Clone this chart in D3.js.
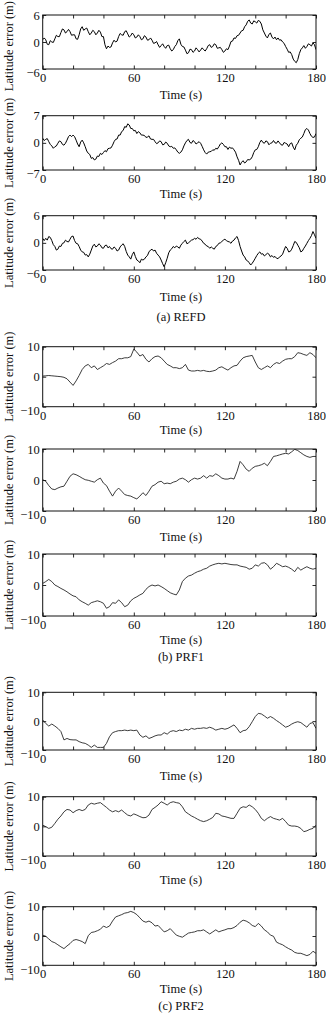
<!DOCTYPE html>
<html>
<head>
<meta charset="utf-8">
<script src="https://cdn.jsdelivr.net/npm/d3@7"></script>
<style>
  html, body { margin: 0; padding: 0; background: #fff; }
  svg { display: block; }
  text { font-family: "Liberation Serif", "Times New Roman", serif; font-size: 12.5px; fill: #111; }
</style>
</head>
<body>
<svg id="chart" width="326" height="1013"></svg>
<script>
// ---- Data: latitude error (m) versus time (s) ----
const timeMajorTicks = [0, 60, 120, 180];
const timeMinorTicks = [0, 20, 40, 60, 80, 100, 120, 140, 160, 180];
const xLabel = "Time (s)";
const yLabel = "Latitude error (m)";
const captions = ["(a) REFD", "(b) PRF1", "(c) PRF2"];

const refdTicksA = [-6, 0, 6];
const refdTicksB = [-7, 0, 7];
const prfTicks = [-10, 0, 10];

// REFD runs, sampled every 1 s
const refd1 = [0.5,0.9,0.5,-0.5,-0.6,0.3,0,-0.1,0.7,1.5,1.2,1.2,2.1,2.9,2.7,2.0,2.3,2.8,2.3,1.5,
  1.6,1.6,0.7,0.6,1.6,2.9,3.4,2.6,2.9,3.1,2.3,1.6,2,2.6,2.3,1.6,2,2.6,2.2,1.2,
  1.2,-0.6,-1.5,-0.9,-1.2,-1.1,-0.2,0.4,0,0.2,1.2,1.9,1.6,1.5,2.3,2.5,1.8,1.1,1.4,2.0,
  1.6,0.9,1.1,1.6,1.2,0.5,0.7,1.4,1.1,0.4,0.5,0.9,0.4,-0.3,-0.2,0.1,-0.6,-1.2,-0.8,-0.4,
  -1,-1.4,-0.8,-0.7,-1.5,-2.0,-1.7,-1.0,-0.6,0.3,0.7,-0.5,-1,-1.1,-1.8,-2.6,-2.4,-1.6,-1.7,-2.3,
  -2,-1.3,-1.7,-2.2,-1.8,-1.3,-1.7,-2.0,-1.5,-0.8,-0.6,-1.2,-1,-0.4,-0.6,-1.4,-1.3,-1.2,-1.7,-2.3,
  -2,-1.5,-1.7,-0.9,0.1,0.2,0.9,0.8,1.4,1.5,2,2.5,2.6,3.4,3.8,4.6,4.9,4.2,4,4.7,
  4.5,4.2,4.8,4.6,4,2.7,2,1.3,0.9,1.7,2,1.1,0.7,1.1,0.5,0.9,0.4,0.5,0,-0.3,
  -1,-1.6,-2.3,-2.2,-2.8,-3.8,-4.3,-4.6,-3.9,-2.6,-1.7,-1.3,-0.8,-1.4,-1,-0.4,-0.6,-0.9,-0.2,-0.6,
  -1.7];
const refd2 = [1.2,0.6,0.9,1.1,0.3,-0.4,-0.8,-1.4,-1,-0.8,-0.1,0.5,0.3,-0.4,-0.6,-0.1,0.7,1.6,2,1.6,
  2,1.6,0.7,-0.3,-1,0.2,0.7,0,-1,-2.1,-2.7,-3.0,-4,-3.8,-4.4,-4.2,-3.4,-3.5,-2.7,-3.0,
  -2.5,-2.0,-2.3,-1.5,-1.4,-1.3,-0.6,0.3,0.9,1.0,2,2.0,2.9,3.2,4.2,4.0,4.9,4.6,3.7,3.7,
  3.1,3.2,2.4,2.9,2.6,2.0,2,1.9,1.4,1.5,1.8,1.0,0.9,0.9,0.3,-0.2,0,0.5,0.3,-0.5,
  -0.4,0.2,-0.1,-0.8,-1,-0.9,-1.4,-1.3,-1.8,-2.4,-2.7,-2.4,-1.8,-0.8,0,0.6,0.9,0.1,-0.1,0.6,
  0.3,-0.3,0,0.3,-0.1,-0.9,-1.8,-2.5,-2.9,-2.4,-2.3,-2.2,-1.8,-1.9,-1.4,-1.6,-1,-0.3,0,-0.4,
  -1,-1.0,-1.7,-1.1,-1.4,-1.3,-1.8,-2.4,-3.6,-4.5,-5.7,-5.0,-4.6,-5.2,-4.9,-4.3,-4.4,-4.2,-3.6,-2.5,
  -1.8,-1.7,-1,0.1,0.7,0.1,-0.1,0.5,0.3,-0.5,-0.1,0.0,0.6,0.0,-0.1,0.5,0,-0.5,-0.6,0.1,
  -0.1,-0.3,-1,-0.2,0,-1.1,-1.8,-0.6,-0.1,0.8,1.2,1.5,2.4,3.4,3.7,3.3,2.4,1.7,1.4,1.5,
  2.4];
const refd3 = [1,0.5,1,0.6,1.4,1.2,0.5,-0.4,-0.8,-1.6,-1.4,-0.7,-0.8,-0.1,0,0.6,0.3,0.2,0.8,1.4,
  1.5,0.5,-0.1,-0.2,-0.8,-1.6,-2,-2.1,-2.7,-2.6,-3.1,-2.5,-1.6,-0.7,-0.3,-0.9,-0.7,-0.2,-0.5,-1.1,
  -1.2,-0.6,-0.5,-1.1,-0.8,-1.3,-1.4,-0.9,-1.2,-1.8,-1.6,-0.9,-0.5,-0.2,-0.8,-1.9,-2.7,-3.1,-3.6,-2.6,
  -2,-3.0,-3.8,-4.0,-4.4,-3.6,-3.8,-3.6,-3.1,-2.8,-2,-1.6,-1.4,-1.8,-1.6,-2.3,-2.7,-3.1,-3.8,-4.6,
  -5.3,-4.4,-3.4,-2.2,-1.6,-1.3,-0.8,-1.1,-0.7,-0.9,-1.2,-0.5,-0.1,0.3,0.6,-0.2,0,0.3,0.6,0.7,
  1,0.8,1.2,0.9,0.8,0.4,-0.1,-0.3,-0.7,-0.8,-1.2,-0.9,-1.2,-1.4,-0.8,-0.6,-0.1,0.0,0.3,0.6,
  0.8,0.5,0.3,0.2,-0.1,0.4,0.6,1.1,1.4,0.5,-0.8,-1.8,-2.7,-3.1,-3.8,-4.0,-4.4,-4.9,-4.5,-4.0,
  -3.4,-2.8,-2.3,-2.0,-2.5,-2.4,-2.9,-2.6,-2.3,-2.5,-3.1,-2.8,-3.2,-3.0,-3.4,-3.5,-3.1,-2.9,-2.5,-1.6,
  -0.8,-1.2,-2,-1.9,-1.4,-0.6,0.3,0.1,-0.5,-1.1,-2,-1.8,-1.2,-0.7,-0.1,0.5,1,1.6,2.5,1.8,
  1];

// PRF1 runs, sampled every 2 s
const prf1a = [0.2,0.3,0.4,0.3,0.2,0.1,0,-0.2,-0.7,-1.8,-2.9,-1.4,0.4,2.4,3.6,4.1,3,3.6,2.4,3,
  3.6,4.4,4.1,4.7,5.2,6,6,6.3,6.3,6.7,9.2,8.2,6.9,7.4,5.8,4.9,6,6.7,6.9,6.3,
  5.2,4.1,3.6,3,3,2.7,3,4.1,2.2,1.9,1.9,2.1,1.9,2.1,1.8,1.7,1.9,2.2,3,3.3,
  2.7,2.2,3,3.6,3.8,5.2,6.3,6.7,6.9,7.1,4.9,3,2.4,3,3.6,3,4.1,4.7,4.4,5.2,
  5.8,6,6,6.7,8,7.8,7.4,7.1,8,7.4,6.3];
const prf1b = [0.1,-0.4,-1.8,-2.9,-3.1,-2.6,-2.2,-2,-0.4,1.2,2,1.7,1.2,0.6,0.1,-0.1,-0.4,-0.7,0.1,0.6,
  -1,-1.8,-3.6,-5.2,-3.6,-2.6,-3.6,-4.7,-5,-5.2,-5.7,-6.1,-5.2,-4.1,-5,-3.6,-2,-1.5,-0.7,-0.4,
  -1.2,-1,-1.2,-0.7,-0.4,0.3,0.6,0.1,-0.7,0.1,0.6,0.3,0.6,1.4,0.6,1.4,1.2,2,1.4,0.6,
  0.3,0.3,0.6,0.3,2.8,6,4.9,3.5,2.8,3.8,4.4,4.6,4.9,5.4,4.6,6,7.6,7.8,8.1,8.4,
  8.6,8.4,9.1,9.9,9.5,8.8,8.1,7.6,7.3,7.6,7.6];
const prf1c = [0.5,1.1,1.8,1.1,0,-0.5,-1.1,-1.6,-2.2,-2.9,-3.5,-3.8,-4.8,-5.4,-5.9,-6.5,-5.7,-5.4,-5.1,-5.4,
  -5.9,-7.5,-7,-5.7,-5.9,-4.8,-5.7,-7,-6.5,-5.1,-4.3,-3.8,-3.2,-2.7,-1.4,-0.5,0,-0.3,0,-0.5,
  -1.1,-1.8,-2.5,-2.9,-3.2,-1.6,1.1,2.2,2.9,3.2,3.8,4.3,4.6,5.1,5.4,6.1,6.5,6.8,7,6.8,
  7,6.8,6.6,6.5,6.5,6.1,5.9,5.7,5.1,5.4,6.5,6.1,7,7.2,6.5,5.1,5.9,7,6.5,5.9,
  6.1,5.7,5.1,4.3,5.7,4.8,5.4,5.9,5.4,5.1,5.4];

// PRF2 runs, sampled every 2 s
const prf2a = [0.4,-0.8,-1.7,-1,-1.7,-2.5,-3.6,-6.5,-6,-6.4,-6.5,-6.5,-7.1,-7.5,-7.7,-8.3,-9.1,-8.3,-9.1,-9.1,
  -9.1,-7.7,-5.4,-4,-3.6,-3.3,-3.3,-3.1,-3.3,-3.1,-3.3,-3.1,-4.8,-5.6,-5.1,-6,-5.6,-5.1,-4.8,-4.8,
  -4,-4.5,-3.6,-3.3,-3.6,-3.1,-3.3,-2.8,-3.1,-2.5,-2.8,-2.5,-2.5,-2.3,-2.5,-2.1,-2.5,-3.1,-2.8,-2.5,
  -2.8,-2.5,-1.9,-1.3,-2.5,-4,-3.3,-3.1,-1.9,-0.2,1.6,2.7,2.5,1.8,1,1.6,1,0.2,-0.5,-1.3,
  -2.1,-1.7,-1,-0.5,-0.2,-0.5,-1.3,-2.1,-0.8,-0.5,-2.5];
const prf2b = [0.4,-0.1,-0.7,-0.3,1,2.4,3.5,4.9,5.7,5.5,4.6,5.3,5.7,5.3,5.7,7.2,7.8,7.5,7.8,8,
  7.2,6.4,5.5,4.9,5.3,4.9,5.5,4.6,3.8,3.5,4.2,3.8,3.3,2.9,3,3.8,5.7,6.4,7.2,8.3,
  7.8,7.2,8,8.3,8,7.8,6.6,4.9,4.2,3.5,3,2.4,1.9,1.6,1.9,2.4,3,4.4,4.2,3.5,
  3.3,3,2.7,2.7,4.4,6.1,6.6,6.4,7.2,6.6,5.7,4.4,2.7,1.9,2.7,3.3,2.7,2.4,2.1,2.7,
  1.6,0.4,0.1,0.1,-0.1,-0.7,-1.8,-1.5,-1,-0.7,0.4];
const prf2c = [0.3,-0.1,-1,-1.9,-2.3,-3,-3.7,-4.3,-3.4,-2.6,-1.5,-1.2,-1.5,-1.9,-2.6,0.1,1.2,1.4,1.8,2.3,
  3.4,2.9,3.4,5.1,6.5,6.9,7.3,7.8,8,8.4,8,7.3,6.2,5.1,4.7,5.1,4.5,3.4,3.6,2.5,
  1.4,1.8,2.5,1.4,0.3,-0.1,-0.4,0.3,1,1.2,1.4,1.8,1.8,2.1,1.4,0.7,1.4,2.1,1.4,1.8,
  2.1,2.5,2.5,2.9,3.6,4.7,5.4,5.1,4.5,3.6,3.2,4.3,3.4,2.1,1.4,0.3,-0.1,-2.1,-2.6,-3,
  -3.7,-4.3,-4.8,-5.6,-5.9,-5.9,-6.3,-6.7,-6.3,-5.2,-5.9];

// ---- Layout ----
const plotLeft = 42.7, plotRight = 316;
const panels = [
  { values: refd1, step: 1, ticks: refdTicksA, top: 15,    bottom: 69,    titleY: 99,  stroke: "#000", width: 1.0 },
  { values: refd2, step: 1, ticks: refdTicksB, top: 115.7, bottom: 170,   titleY: 198, stroke: "#000", width: 1.0 },
  { values: refd3, step: 1, ticks: refdTicksA, top: 215.7, bottom: 270,   titleY: 301, stroke: "#000", width: 1.0 },
  { values: prf1a, step: 2, ticks: prfTicks,   top: 346.7, bottom: 406.7, titleY: 434, stroke: "#1a1a1a", width: 0.85 },
  { values: prf1b, step: 2, ticks: prfTicks,   top: 449,   bottom: 511,   titleY: 541, stroke: "#1a1a1a", width: 0.85 },
  { values: prf1c, step: 2, ticks: prfTicks,   top: 554,   bottom: 616,   titleY: 644, stroke: "#1a1a1a", width: 0.85 },
  { values: prf2a, step: 2, ticks: prfTicks,   top: 692.3, bottom: 750,   titleY: 780, stroke: "#1a1a1a", width: 0.85 },
  { values: prf2b, step: 2, ticks: prfTicks,   top: 796.7, bottom: 856,   titleY: 884, stroke: "#1a1a1a", width: 0.85 },
  { values: prf2c, step: 2, ticks: prfTicks,   top: 906.7, bottom: 965.3, titleY: 993, stroke: "#1a1a1a", width: 0.85 }
];
const captionY = [321, 661, 1010];
const centerX = 181;

const svg = d3.select("#chart");
const x = d3.scaleLinear().domain([0, 180]).range([plotLeft, plotRight]);
const fmt = d3.format("d");

panels.forEach((p, i) => {
  const yMax = d3.max(p.ticks);
  const y = d3.scaleLinear().domain([-yMax, yMax]).range([p.bottom, p.top]);
  const g = svg.append("g");

  const clipId = "clip" + i;
  g.append("clipPath").attr("id", clipId).append("rect")
    .attr("x", plotLeft).attr("y", p.top)
    .attr("width", plotRight - plotLeft).attr("height", p.bottom - p.top);

  // trace
  const line = d3.line().x((d, k) => x(k * p.step)).y(d => y(d));
  g.append("path").datum(p.values)
    .attr("clip-path", `url(#${clipId})`)
    .attr("fill", "none").attr("stroke", p.stroke)
    .attr("stroke-width", p.width).attr("stroke-linejoin", "round")
    .attr("d", line);

  // axes with inward ticks
  const bottomAxis = d3.axisBottom(x).tickValues(timeMinorTicks)
    .tickSizeInner(-3.5).tickSizeOuter(0).tickPadding(4)
    .tickFormat(d => timeMajorTicks.includes(d) ? fmt(d) : "");
  const topAxis = d3.axisTop(x).tickValues(timeMinorTicks)
    .tickSizeInner(-3.5).tickSizeOuter(0).tickFormat("");
  const leftAxis = d3.axisLeft(y).tickValues(p.ticks)
    .tickSizeInner(-3.5).tickSizeOuter(0).tickPadding(3).tickFormat(fmt);
  const rightAxis = d3.axisRight(y).tickValues(p.ticks)
    .tickSizeInner(-3.5).tickSizeOuter(0).tickFormat("");

  const gb = g.append("g").attr("transform", `translate(0,${p.bottom})`).call(bottomAxis);
  const gt = g.append("g").attr("transform", `translate(0,${p.top})`).call(topAxis);
  const gl = g.append("g").attr("transform", `translate(${plotLeft},0)`).call(leftAxis);
  const gr = g.append("g").attr("transform", `translate(${plotRight},0)`).call(rightAxis);

  [gb, gt, gl, gr].forEach(a => {
    a.attr("font-family", null).attr("font-size", null);
    a.select(".domain").remove();
    a.selectAll(".tick line").attr("stroke", "#111").attr("stroke-width", 0.9);
    a.selectAll("text").attr("fill", "#111");
  });
  // lowest y label sits just under the corner
  gl.selectAll(".tick text").filter(d => d === -yMax).attr("dy", "0.62em");

  // frame
  g.append("rect")
    .attr("x", plotLeft).attr("y", p.top)
    .attr("width", plotRight - plotLeft).attr("height", p.bottom - p.top)
    .attr("fill", "none").attr("stroke", "#111").attr("stroke-width", 1);

  // axis titles
  g.append("text").attr("x", centerX).attr("y", p.titleY)
    .attr("text-anchor", "middle").text(xLabel);
  const yt = g.append("text")
    .attr("text-anchor", "middle").text(yLabel);
  const half = yt.node().getComputedTextLength() / 2;
  const cy = Math.max((p.top + p.bottom) / 2, half + 1);
  yt.attr("transform", `translate(12.5,${cy}) rotate(-90)`);
});

captions.forEach((c, i) => {
  svg.append("text").attr("x", centerX).attr("y", captionY[i])
    .attr("text-anchor", "middle").text(c);
});
</script>
</body>
</html>
